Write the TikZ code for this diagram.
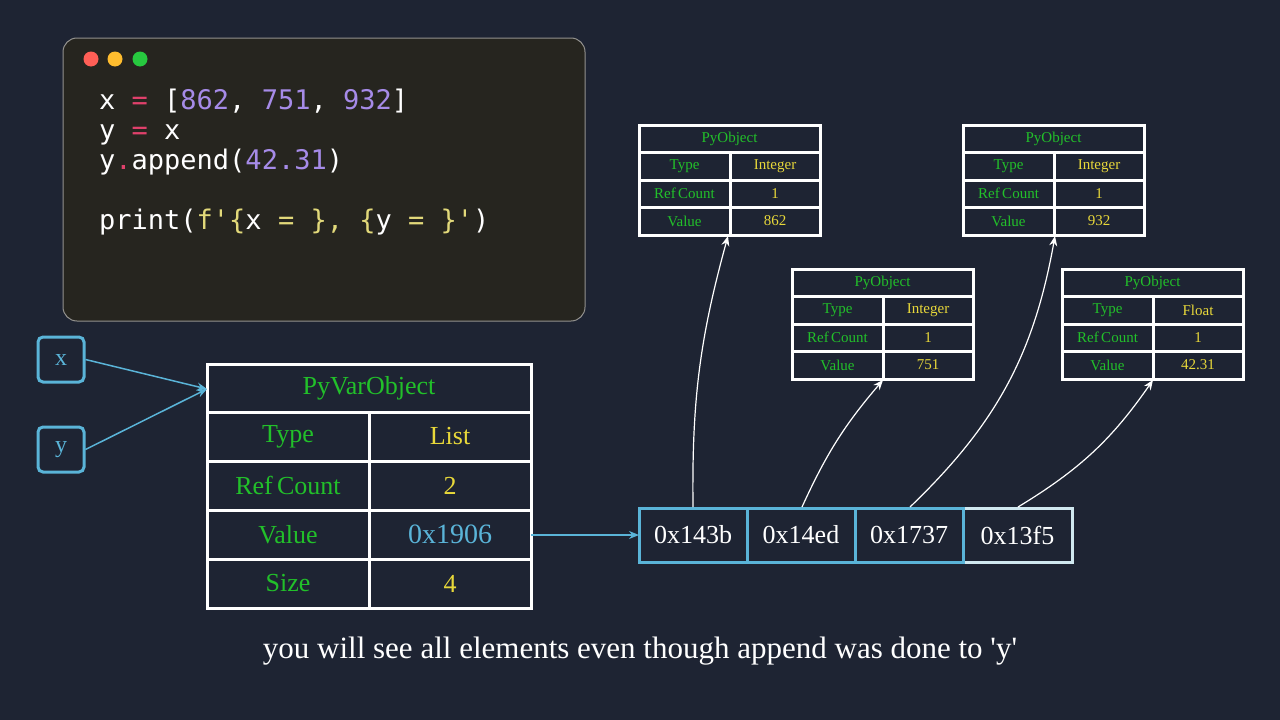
\documentclass[tikz,border=0pt]{standalone}
\usepackage{fontspec}
\setmainfont{Liberation Serif}
\newfontfamily\codefont{DejaVu Sans Mono}
\usetikzlibrary{arrows.meta}
\definecolor{bg}{HTML}{1E2433}
\definecolor{codebg}{HTML}{26251F}
\definecolor{cy}{HTML}{5AB4D8}
\definecolor{gr}{HTML}{22C02A}
\definecolor{ye}{HTML}{E8D83A}
\definecolor{pu}{HTML}{A68BE8}
\definecolor{rd}{HTML}{E0416B}
\definecolor{sy}{HTML}{E2D97A}
\definecolor{lb}{HTML}{D0E8F0}
\definecolor{dr}{HTML}{FF5F56}
\definecolor{dy}{HTML}{FFBD2E}
\definecolor{dg}{HTML}{27C93F}
\tikzset{
  grid/.style={draw=white,line width=3pt},
  sm/.style={font=\fontsize{15}{15}\selectfont},
  bg24/.style={font=\fontsize{26}{26}\selectfont},
  varbox/.style={draw=cy,line width=3pt,rounded corners=5pt,minimum width=46pt,minimum height=45pt,text=cy,font=\fontsize{24}{24}\selectfont},
  wa/.style={white,line width=1.2pt,-{Stealth[length=10pt,width=8pt]}},
  ca/.style={cy,line width=1.5pt,-{Stealth[length=10pt,width=8pt]}},
}
\newcommand{\pyobj}[4]{% x, y, kind, value
  \begin{scope}[shift={(#1,#2)}]
  \draw[grid] (0,0) rectangle (181,110);
  \draw[grid] (0,27)--(181,27) (0,55)--(181,55) (0,82)--(181,82) (91,27)--(91,110);
  \node[sm,text=gr] at (90.5,13.5) {PyObject};
  \node[sm,text=gr] at (45.5,41) {Type};
  \node[sm,text=ye] at (136,41) {#3};
  \node[sm,text=gr] at (45.5,68.5) {Ref\,Count};
  \node[sm,text=ye] at (136,68.5) {1};
  \node[sm,text=gr] at (45.5,96) {Value};
  \node[sm,text=ye] at (136,96) {#4};
  \end{scope}}
\begin{document}
\begin{tikzpicture}[x=1pt,y=-1pt]
\fill[bg] (0,0) rectangle (1280,720);
\useasboundingbox (0,0) rectangle (1280,720);
% code box
\draw[codebg!50!white,fill=codebg,line width=1pt,rounded corners=14pt] (63,38) rectangle (585,321);
\fill[dr] (91,59) circle (7.5);
\fill[dy] (115,59) circle (7.5);
\fill[dg] (140,59) circle (7.5);
\begin{scope}[every node/.style={anchor=base west,inner sep=0pt,font=\codefont\fontsize{27}{27}\selectfont,text=white}]
\node (l1) at (99,109) {x \textcolor{rd}{=} [\textcolor{pu}{862}, \textcolor{pu}{751}, \textcolor{pu}{932}]};
\node (l2) at (99,139) {y \textcolor{rd}{=} x};
\node (l3) at (99,169) {y\textcolor{rd}{.}append(\textcolor{pu}{42.31})};
\node (l4) at (99,229) {print(\textcolor{sy}{f\textquotesingle\{}x \textcolor{sy}{= \}, \{}y \textcolor{sy}{= \}\textquotesingle})};
\end{scope}
% variables
\node[varbox] (x) at (61,359.5) {x};
\node[varbox] (y) at (61,449.5) {y};
% main table
\draw[grid] (207,364) rectangle (531,608);
\draw[grid] (207,412)--(531,412) (207,461)--(531,461) (207,510)--(531,510) (207,559)--(531,559) (369,412)--(369,608);
\node[bg24,text=gr] (hdr) at (369,388) {PyVarObject};
\node[bg24,text=gr] at (288,436.5) {Type};
\node[bg24,text=ye] at (450,436.5) {List};
\node[bg24,text=gr] at (288,485.5) {Ref\,Count};
\node[bg24,text=ye] at (450,485.5) {2};
\node[bg24,text=gr] at (288,534.5) {Value};
\node[text=cy,font=\fontsize{28}{28}\selectfont] (val) at (450,534.5) {0x1906};
\node[bg24,text=ye] at (450,583.5) {4};
\node[bg24,text=gr] at (288,583.5) {Size};
\coordinate (tin) at (207,389);
\draw[ca] (x.east) -- (tin);
\draw[ca] (y.east) -- (tin);
% array
\coordinate (vout) at (531,535);
\coordinate (ain) at (639,535);
\draw[ca] (vout) -- (ain);
\draw[lb,line width=3pt] (963,508) rectangle (1072,562);
\draw[cy,line width=3pt] (639,508) rectangle (963,562) (747,508)--(747,562) (855,508)--(855,562);
\node[bg24,text=white] at (693,535) {0x143b};
\node[bg24,text=white] at (801,535) {0x14ed};
\node[bg24,text=white] at (909,535) {0x1737};
\node[bg24,text=white] at (1017.5,535) {0x13f5};
% objects
\pyobj{639}{125}{Integer}{862}
\pyobj{792}{269}{Integer}{751}
\pyobj{963}{125}{Integer}{932}
\pyobj{1062}{269}{Float}{42.31}
\coordinate (a1) at (693,507); \coordinate (o1) at (728,236);
\coordinate (a2) at (802,507); \coordinate (o2) at (883,380);
\coordinate (a3) at (910,507); \coordinate (o3) at (1055,236);
\coordinate (a4) at (1018,507); \coordinate (o4) at (1153,380);
\draw[wa] (a1) to[bend left=8] (o1);
\draw[wa] (a2) to[bend left=8] (o2);
\draw[wa] (a3) to[bend right=18] (o3);
\draw[wa] (a4) to[bend right=12] (o4);
\node[text=white,font=\fontsize{31}{31}\selectfont] (cap) at (640,651) {you will see all elements even though append was done to \textquotesingle y\textquotesingle};
\end{tikzpicture}
\end{document}
